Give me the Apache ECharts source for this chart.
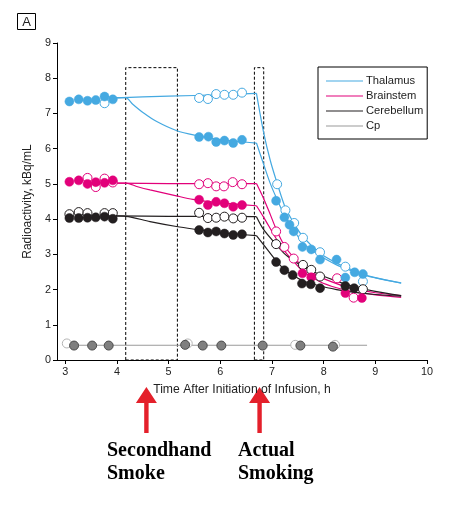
<!DOCTYPE html>
<html>
<head>
<meta charset="utf-8">
<script src="https://cdn.jsdelivr.net/npm/echarts@6.0.0/dist/echarts.min.js"></script>
<style>
html,body{margin:0;padding:0;background:#fff;}
#chart{width:458px;height:506px;}
</style>
</head>
<body>
<div id="chart"></div>
<script>
// ---- tick labels ----
const xTicks = [3, 4, 5, 6, 7, 8, 9, 10];

// ---- measured points [time h, kBq/mL] ----
const thalamusFilled = [[3.08,7.34],[3.26,7.40],[3.43,7.36],[3.59,7.38],[3.76,7.48],[3.92,7.40],
  [5.59,6.33],[5.77,6.34],[5.92,6.19],[6.08,6.23],[6.25,6.16],[6.42,6.25],
  [7.08,4.52],[7.24,4.05],[7.34,3.84],[7.42,3.65],[7.59,3.21],[7.76,3.14],[7.93,2.85],[8.25,2.85],[8.42,2.34],[8.60,2.49],[8.76,2.44]];
const thalamusOpen = [[3.76,7.29],
  [5.59,7.44],[5.76,7.41],[5.92,7.55],[6.08,7.53],[6.25,7.53],[6.42,7.59],
  [7.10,4.99],[7.26,4.25],[7.43,3.89],[7.60,3.47],[7.93,3.06],[8.42,2.65],[8.76,2.23]];
const brainstemFilled = [[3.08,5.06],[3.26,5.10],[3.43,5.00],[3.59,5.05],[3.76,5.03],[3.92,5.10],
  [5.59,4.55],[5.76,4.40],[5.92,4.49],[6.08,4.45],[6.25,4.35],[6.42,4.40],
  [7.59,2.46],[7.76,2.35],[8.42,1.90],[8.74,1.76]];
const brainstemOpen = [[3.43,5.17],[3.59,4.91],[3.76,5.15],[3.92,5.04],
  [5.59,4.99],[5.76,5.02],[5.92,4.93],[6.07,4.93],[6.24,5.05],[6.42,4.99],
  [7.08,3.65],[7.24,3.21],[7.42,2.88],[8.26,2.32],[8.58,1.77]];
const cerebellumFilled = [[3.08,4.03],[3.26,4.03],[3.43,4.04],[3.59,4.05],[3.76,4.07],[3.92,4.01],
  [5.59,3.69],[5.76,3.62],[5.92,3.65],[6.08,3.59],[6.25,3.55],[6.42,3.57],
  [7.08,2.78],[7.24,2.55],[7.40,2.41],[7.58,2.17],[7.75,2.15],[7.93,2.04],[8.42,2.10],[8.59,2.04]];
const cerebellumOpen = [[3.08,4.14],[3.26,4.20],[3.43,4.17],[3.76,4.17],[3.92,4.17],
  [5.59,4.18],[5.76,4.03],[5.92,4.04],[6.08,4.07],[6.25,4.02],[6.42,4.04],
  [7.08,3.29],[7.60,2.70],[7.76,2.56],[7.93,2.37],[8.76,2.01]];
const cpFilled = [[3.17,0.41],[3.52,0.41],[3.84,0.41],[5.32,0.43],[5.66,0.41],[6.02,0.41],[6.82,0.41],[7.55,0.41],[8.18,0.38]];
const cpOpen = [[3.03,0.47],[5.37,0.47],[7.45,0.43],[8.22,0.43]];

// ---- fitted curves ----
const thalamusCtrlCurve = [[3.92,7.44],[4.5,7.47],[5.5,7.51],[6.0,7.53],[6.70,7.57],[6.84,6.45],[6.97,5.65],[7.10,5.02],[7.26,4.32],[7.43,3.87],[7.60,3.50],[7.93,3.03],[8.25,2.75],[8.42,2.64],[8.75,2.44],[9.0,2.34],[9.5,2.19]];
const thalamusSmokeCurve = [[3.92,7.44],[4.17,7.45],[4.30,7.27],[4.51,7.02],[4.77,6.77],[5.16,6.51],[5.55,6.37],[5.93,6.27],[6.30,6.21],[6.70,6.16],[6.84,5.55],[6.97,5.00],[7.08,4.62],[7.24,4.12],[7.42,3.70],[7.60,3.32],[7.93,2.96],[8.25,2.70],[8.42,2.60],[8.75,2.42],[9.0,2.33],[9.5,2.18]];
const brainstemCtrlCurve = [[3.92,5.02],[5.0,5.01],[6.70,5.01],[6.84,4.58],[6.97,4.12],[7.08,3.72],[7.24,3.25],[7.42,2.91],[7.60,2.66],[7.93,2.36],[8.25,2.17],[8.6,2.01],[9.0,1.91],[9.5,1.83]];
const brainstemSmokeCurve = [[3.92,5.02],[4.17,5.02],[4.40,4.92],[4.64,4.83],[5.15,4.66],[5.47,4.56],[6.0,4.46],[6.70,4.38],[6.84,4.05],[7.08,3.45],[7.24,3.10],[7.42,2.80],[7.60,2.52],[7.93,2.22],[8.25,2.05],[8.6,1.93],[9.0,1.85],[9.5,1.78]];
const cerebellumCtrlCurve = [[3.92,4.09],[5.0,4.08],[6.70,4.07],[6.84,3.70],[7.08,3.28],[7.24,3.02],[7.42,2.82],[7.60,2.66],[7.93,2.42],[8.25,2.24],[8.6,2.08],[9.0,1.95],[9.5,1.83]];
const cerebellumSmokeCurve = [[3.92,4.09],[4.17,4.08],[4.64,3.93],[5.15,3.79],[5.47,3.72],[6.0,3.62],[6.70,3.53],[6.84,3.27],[7.08,2.82],[7.24,2.57],[7.42,2.40],[7.60,2.25],[7.93,2.10],[8.25,2.00],[8.6,1.92],[9.0,1.86],[9.5,1.81]];
const cpCurve = [[3.03,0.42],[8.84,0.42]];

// ---- exposure windows (h) and top of boxes ----
const secondhandWindow = [4.17, 5.17];
const smokingWindow = [6.66, 6.84];
const windowTop = 8.3;
const smokingOnset = 6.70;
const arrowTimes = [4.57, 6.76];
const annotationTexts = ['Secondhand\nSmoke', 'Actual\nSmoking'];

const C_TH = '#45A9E1', C_BR = '#E2007A', C_CE = '#231F20', C_CP = '#9A9A9A';
const FONT = '"Liberation Sans","Arimo",Arial,sans-serif';

function lineSeries(name, data, color, w) {
  return {name: name, type: 'line', data: data, showSymbol: false, symbol: 'none',
    smooth: 0.3, z: 2, silent: true,
    color: color, itemStyle: {color: color}, lineStyle: {color: color, width: w || 1.2}};
}
// a fitted curve has a corner at smoking onset: draw the parts on either side separately
function curve(name, data, color, w) {
  const before = data.filter(function (p) { return p[0] <= smokingOnset; });
  const after = data.filter(function (p) { return p[0] >= smokingOnset; });
  return [lineSeries(name, before, color, w), lineSeries(name, after, color, w)];
}
function pts(name, data, color, filled, border) {
  return {name: name, type: 'scatter', data: data, symbol: 'circle', symbolSize: 9, z: filled ? 4 : 3,
    itemStyle: filled ? {color: color, borderColor: border || color, borderWidth: border ? 1 : 0.5, opacity: 1}
                      : {color: '#ffffff', borderColor: border || color, borderWidth: 1, opacity: 1}};
}

const chart = echarts.init(document.getElementById('chart'), null, {renderer: 'canvas'});
const cpLine = lineSeries('Cp', cpCurve, C_CP, 1.1);
cpLine.markArea = {silent: true,
  itemStyle: {color: 'rgba(0,0,0,0)', borderColor: '#000', borderWidth: 1, borderType: [3, 2]},
  data: [[{xAxis: secondhandWindow[0], yAxis: 0}, {xAxis: secondhandWindow[1], yAxis: windowTop}],
         [{xAxis: smokingWindow[0], yAxis: 0}, {xAxis: smokingWindow[1], yAxis: windowTop}]]};

const option = {
  animation: false,
  backgroundColor: '#fff',
  grid: {left: 57, right: 31, top: 43, bottom: 146},
  xAxis: {type: 'value', min: 2.84, max: 10,
    name: 'Time After Initiation of Infusion, h', nameLocation: 'middle', nameGap: 24,
    nameTextStyle: {fontFamily: FONT, fontSize: 12.2, color: '#222'},
    axisLine: {lineStyle: {color: '#000', width: 1}},
    axisTick: {customValues: xTicks, length: 4, lineStyle: {color: '#000'}},
    axisLabel: {customValues: xTicks, margin: 7, fontSize: 10.8, color: '#222', fontFamily: FONT},
    splitLine: {show: false}},
  yAxis: {type: 'value', min: 0, max: 9, interval: 1,
    name: 'Radioactivity, kBq/mL', nameLocation: 'middle', nameGap: 23,
    nameTextStyle: {fontFamily: FONT, fontSize: 12, color: '#222'},
    axisLine: {show: true, lineStyle: {color: '#000', width: 1}},
    axisTick: {show: true, length: 4, lineStyle: {color: '#000'}},
    axisLabel: {margin: 6, fontSize: 10.8, color: '#222', fontFamily: FONT},
    splitLine: {show: false}},
  legend: {
    data: [{name: 'Thalamus'}, {name: 'Brainstem'}, {name: 'Cerebellum'}, {name: 'Cp'}],
    orient: 'vertical', left: 318, top: 67, icon: 'rect', itemWidth: 37, itemHeight: 1.2, itemGap: 3,
    borderColor: '#000', borderWidth: 1, padding: [8, 4, 7, 8], selectedMode: false,
    textStyle: {fontFamily: FONT, fontSize: 11.2, color: '#222', lineHeight: 12, padding: [0, 0, 0, -2]}},
  series: [cpLine].concat(
    curve('Thalamus', thalamusCtrlCurve, C_TH), curve('Thalamus', thalamusSmokeCurve, C_TH),
    curve('Brainstem', brainstemCtrlCurve, C_BR), curve('Brainstem', brainstemSmokeCurve, C_BR),
    curve('Cerebellum', cerebellumCtrlCurve, C_CE), curve('Cerebellum', cerebellumSmokeCurve, C_CE),
    [pts('Cp open', cpOpen, '#fff', false, '#B5B5B5'),
    pts('Thalamus open', thalamusOpen, C_TH, false),
    pts('Brainstem open', brainstemOpen, C_BR, false),
    pts('Cerebellum open', cerebellumOpen, C_CE, false),
    pts('Cp filled', cpFilled, '#7F7F7F', true, '#4A4A4A'),
    pts('Thalamus filled', thalamusFilled, C_TH, true),
    pts('Brainstem filled', brainstemFilled, C_BR, true),
    pts('Cerebellum filled', cerebellumFilled, C_CE, true)])
};
chart.setOption(option);

// panel label and annotations below the axis
const graphics = [
  {type: 'rect', shape: {x: 17.5, y: 13.5, width: 18, height: 16}, style: {fill: '#fff', stroke: '#000', lineWidth: 1}},
  {type: 'text', x: 26.5, y: 22, style: {text: 'A', font: '13px ' + FONT, fill: '#222', align: 'center', verticalAlign: 'middle'}}
];
const textLeft = [107, 238];
arrowTimes.forEach(function (t, i) {
  const cx = chart.convertToPixel({gridIndex: 0}, [t, 0])[0];
  const tip = 387, base = 403, bottom = 433, hw = 10.5, sw = 2.2;
  graphics.push({type: 'polygon', shape: {points: [[cx, tip], [cx + hw, base], [cx + sw, base], [cx + sw, bottom], [cx - sw, bottom], [cx - sw, base], [cx - hw, base]]},
    style: {fill: '#E4202B'}});
  graphics.push({type: 'text', x: textLeft[i], y: 439,
    style: {text: annotationTexts[i], font: 'bold 20px "Liberation Serif","DejaVu Serif",serif', lineHeight: 23, fill: '#000', align: 'left', verticalAlign: 'top'}});
});
chart.setOption({graphic: graphics});
</script>
</body>
</html>
